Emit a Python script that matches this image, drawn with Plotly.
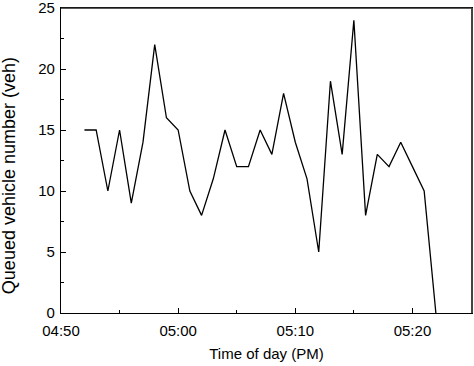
import plotly.graph_objects as go

times = ["16:52", "16:53", "16:54", "16:55", "16:56", "16:57", "16:58", "16:59",
         "17:00", "17:01", "17:02", "17:03", "17:04", "17:05", "17:06", "17:07",
         "17:08", "17:09", "17:10", "17:11", "17:12", "17:13", "17:14", "17:15",
         "17:16", "17:17", "17:18", "17:19", "17:20", "17:21", "17:22"]
queued = [15, 15, 10, 15, 9, 14, 22, 16,
          15, 10, 8, 11, 15, 12, 12, 15,
          13, 18, 14, 11, 5, 19, 13, 24,
          8, 13, 12, 14, 12, 10, 0]
y_ticks = [0, 5, 10, 15, 20, 25]

x = ["2020-01-01 " + t + ":00" for t in times]

fig = go.Figure()
fig.add_trace(go.Scatter(x=x, y=queued, mode="lines",
                         line=dict(color="black", width=1.3)))

fam = "Liberation Sans, Arial, sans-serif"
tickfont = dict(family=fam, size=15, color="black")

fig.update_layout(
    width=474, height=366,
    margin=dict(l=61, r=2, t=8, b=53),
    paper_bgcolor="white", plot_bgcolor="white",
    showlegend=False,
    font=dict(family=fam, size=15, color="black"),
)
fig.update_xaxes(
    type="date",
    range=["2020-01-01 16:50:00", "2020-01-01 17:25:05"],
    tickformat="%I:%M",
    dtick=600000, tick0="2020-01-01 16:50:00",
    ticks="inside", ticklen=5, tickwidth=1, tickcolor="black",
    minor=dict(ticks="inside", dtick=300000, ticklen=3, tickcolor="black"),
    showline=True, linecolor="black", linewidth=1.2, mirror=True,
    showgrid=False, zeroline=False, automargin=False,
    ticklabelstandoff=4,
    title=dict(text="Time of day (PM)", standoff=10,
               font=dict(family=fam, size=15, color="black")),
    tickfont=tickfont,
)
fig.update_yaxes(
    range=[0, 25.0001],
    tickmode="array", tickvals=y_ticks, ticktext=[str(v) for v in y_ticks],
    ticklabeloverflow="allow",
    ticks="inside", ticklen=5, tickwidth=1, tickcolor="black",
    minor=dict(ticks="inside", dtick=2.5, tick0=0, ticklen=3, tickcolor="black"),
    showline=True, linecolor="black", linewidth=1.2, mirror=True,
    showgrid=False, zeroline=False, automargin=False,
    ticklabelstandoff=2,
    tickfont=tickfont,
)
fig.add_annotation(text="Queued vehicle number (veh)", xref="paper", yref="paper",
                   x=-0.128, y=0.45, xanchor="center", yanchor="middle",
                   textangle=-90, showarrow=False,
                   font=dict(family=fam, size=18, color="black"))
fig.add_shape(type="line", xref="paper", yref="paper", x0=0, x1=1, y0=1, y1=1,
              line=dict(color="#222222", width=1.5))
fig.add_shape(type="line", xref="paper", yref="paper", x0=1, x1=1, y0=0, y1=1,
              line=dict(color="#444444", width=2))

fig.write_html("out.html", config={"displayModeBar": False},
               post_script="document.body.style.margin='0';document.body.style.overflow='hidden';")
